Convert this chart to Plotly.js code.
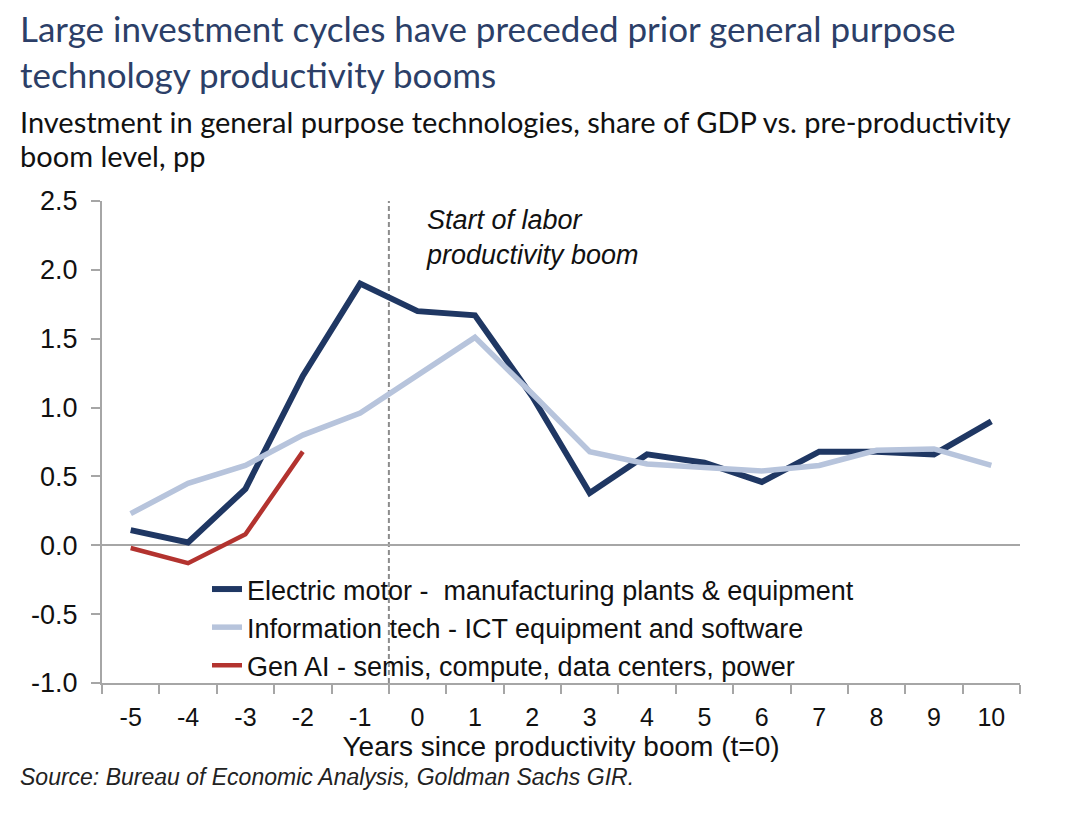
<!DOCTYPE html>
<html>
<head>
<meta charset="utf-8">
<script src="https://cdn.plot.ly/plotly-3.0.1.min.js"></script>
<style>
  html, body { margin: 0; padding: 0; background: #ffffff; }
  #chart { width: 1075px; height: 814px; }
</style>
</head>
<body>
<div id="chart"></div>
<script>
// ---- Data ----
const years = [-5, -4, -3, -2, -1, 0, 1, 2, 3, 4, 5, 6, 7, 8, 9, 10];
const tickLabels = ["-5", "-4", "-3", "-2", "-1", "0", "1", "2", "3", "4", "5", "6", "7", "8", "9", "10"];
const yTickVals = [-1.0, -0.5, 0.0, 0.5, 1.0, 1.5, 2.0, 2.5];
const yTickLabels = ["-1.0", "-0.5", "0.0", "0.5", "1.0", "1.5", "2.0", "2.5"];
const electricMotor = [0.11, 0.02, 0.41, 1.23, 1.90, 1.70, 1.67, 1.08, 0.38, 0.66, 0.60, 0.46, 0.68, 0.68, 0.66, 0.90];
const infoTech = [0.23, 0.45, 0.58, 0.80, 0.96, 1.23, 1.51, 1.10, 0.68, 0.59, 0.57, 0.54, 0.58, 0.69, 0.70, 0.58];
const genAIYears = [-5, -4, -3, -2];
const genAI = [-0.02, -0.13, 0.08, 0.68];
const seriesNames = [
  "Electric motor -  manufacturing plants & equipment",
  "Information tech - ICT equipment and software",
  "Gen AI - semis, compute, data centers, power"
];
const boomStart = -0.5;

const ARIAL = "'Liberation Sans', Arial, sans-serif";
const TITLEFONT = "Lato, 'Open Sans', sans-serif";

const traces = [
  { x: years, y: electricMotor, name: seriesNames[0], type: "scatter", mode: "lines",
    line: { color: "#1f3763", width: 6 } },
  { x: years, y: infoTech, name: seriesNames[1], type: "scatter", mode: "lines",
    line: { color: "#b7c4dc", width: 5.5 } },
  { x: genAIYears, y: genAI, name: seriesNames[2], type: "scatter", mode: "lines",
    line: { color: "#b3332f", width: 4.5 } }
];

const px = (p) => (p - 102) / 918;        // page x -> paper x
const py = (p) => (683 - p) / 482;        // page y -> paper y

const layout = {
  width: 1075, height: 814,
  paper_bgcolor: "#ffffff", plot_bgcolor: "#ffffff",
  margin: { l: 102, r: 55, t: 201, b: 131 },
  showlegend: true,
  legend: {
    x: px(207), y: py(565), xanchor: "left", yanchor: "top",
    bgcolor: "rgba(0,0,0,0)",
    font: { family: ARIAL, size: 27, color: "#111111" },
    tracegroupgap: 0, itemwidth: 30
  },
  xaxis: {
    type: "linear",
    range: [-5.5, 10.5],
    tickmode: "array", tickvals: years, ticktext: tickLabels,
    ticks: "", showgrid: false, zeroline: false,
    showline: true, linecolor: "#a6a6a6", linewidth: 2,
    tickfont: { family: ARIAL, size: 25, color: "#111111" },
    ticklabelstandoff: 11,
    minor: { tickmode: "linear", tick0: 0.5, dtick: 1, ticks: "outside", ticklen: 9, tickcolor: "#a6a6a6", tickwidth: 2, showgrid: false },
    title: { text: "Years since productivity boom (t=0)", font: { family: ARIAL, size: 28, color: "#111111" }, standoff: 0 }
  },
  yaxis: {
    range: [-1.0, 2.5],
    tickmode: "array", tickvals: yTickVals, ticktext: yTickLabels,
    ticks: "outside", ticklen: 9, tickcolor: "#a6a6a6", tickwidth: 2,
    showgrid: false, showline: true, linecolor: "#a6a6a6", linewidth: 2,
    zeroline: true, zerolinecolor: "#a6a6a6", zerolinewidth: 2,
    tickfont: { family: ARIAL, size: 27, color: "#111111" },
    ticklabelstandoff: 8
  },
  shapes: [
    { type: "line", xref: "x", yref: "paper", x0: boomStart, x1: boomStart, y0: 0, y1: 1,
      line: { color: "#8c8c8c", width: 2, dash: "5px,3px" }, layer: "below" }
  ],
  annotations: [
    { text: "Large investment cycles have preceded prior general purpose<br>technology productivity booms",
      xref: "paper", yref: "paper", x: px(18), y: py(5),
      xanchor: "left", yanchor: "top", align: "left", showarrow: false,
      font: { family: TITLEFONT, size: 35, color: "#2c3f68" } },
    { text: "Investment in general purpose technologies, share of GDP vs. pre-productivity",
      xref: "paper", yref: "paper", x: px(18), y: py(102),
      xanchor: "left", yanchor: "top", align: "left", showarrow: false,
      font: { family: TITLEFONT, size: 29, color: "#111111" } },
    { text: "boom level, pp",
      xref: "paper", yref: "paper", x: px(18), y: py(136),
      xanchor: "left", yanchor: "top", align: "left", showarrow: false,
      font: { family: TITLEFONT, size: 29, color: "#111111" } },
    { text: "<i>Start of labor<br>productivity boom</i>",
      xref: "paper", yref: "paper", x: px(424), y: py(203),
      xanchor: "left", yanchor: "top", align: "left", showarrow: false,
      font: { family: ARIAL, size: 27, color: "#111111" } },
    { text: "<i>Source: Bureau of Economic Analysis, Goldman Sachs GIR.</i>",
      xref: "paper", yref: "paper", x: px(18), y: py(762),
      xanchor: "left", yanchor: "top", align: "left", showarrow: false,
      font: { family: ARIAL, size: 23, color: "#222222" } }
  ]
};

Plotly.newPlot("chart", traces, layout, { displayModeBar: false, staticPlot: true });
</script>
</body>
</html>
